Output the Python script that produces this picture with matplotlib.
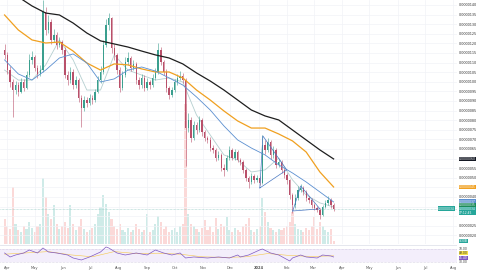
import datetime as dt
import numpy as np
import matplotlib
matplotlib.use("Agg")
import matplotlib.pyplot as plt
import matplotlib.dates as mdates
from matplotlib.transforms import blended_transform_factory

# ---------------- data ----------------
UNIT = 1e-6
start_date = dt.date(2023, 3, 29)
bar_days = 3
first_open = 11.66

closes = [11.40, 10.61, 9.99, 9.57, 9.83, 9.47, 9.99, 9.68, 10.35, 11.14,
          11.29, 10.72, 10.41, 10.61, 13.64, 12.70, 13.11, 12.18, 12.44, 11.92,
          12.07, 11.66, 10.35, 10.09, 10.51, 9.83, 10.09, 9.16, 8.64, 9.05,
          8.90, 9.16, 9.05, 9.47, 10.09, 10.51, 11.92, 12.96, 13.32, 11.76,
          11.40, 10.61, 9.68, 10.35, 11.03, 11.24, 10.72, 10.93, 10.09, 9.83,
          10.20, 9.68, 9.99, 9.83, 10.20, 10.51, 11.66, 11.03, 10.51, 9.68,
          9.31, 9.57, 9.99, 10.20, 10.30, 10.09, 7.59, 8.01, 7.07, 7.75,
          7.49, 8.01, 7.39, 7.07, 6.97, 6.55, 6.45, 6.03, 6.19, 5.51,
          5.41, 6.03, 6.45, 6.03, 6.34, 5.93, 5.82, 5.41, 4.99, 4.78,
          5.09, 4.89, 4.99, 4.73, 6.71, 6.45, 6.86, 6.19, 6.45, 5.67,
          5.82, 5.41, 5.15, 4.89, 4.10, 3.58, 3.95, 4.36, 4.47, 4.26,
          3.95, 3.84, 3.58, 3.43, 3.32, 3.06, 3.48, 3.69, 3.84, 3.58,
          3.38]
highs = [11.95, 11.55, 10.80, 10.15, 10.05, 10.00, 10.20, 10.15, 10.55, 11.45,
         11.60, 11.40, 10.90, 10.85, 14.26, 13.90, 13.50, 13.25, 12.75, 12.60,
         12.35, 12.20, 11.80, 10.55, 10.75, 10.65, 10.30, 10.20, 9.30, 9.25,
         9.20, 9.35, 9.30, 9.65, 10.30, 10.80, 12.20, 13.25, 13.58, 13.40,
         11.95, 11.50, 10.75, 10.55, 11.30, 11.55, 11.35, 11.15, 11.05, 10.25,
         10.40, 10.35, 10.20, 10.10, 10.40, 10.70, 12.00, 11.80, 11.15, 10.65,
         9.80, 9.75, 10.15, 10.40, 10.55, 10.45, 10.20, 8.35, 8.15, 7.95,
         7.90, 8.20, 8.10, 7.50, 7.20, 7.10, 6.70, 6.55, 6.40, 6.30,
         5.70, 6.20, 6.65, 6.55, 6.50, 6.45, 6.05, 5.95, 5.50, 5.10,
         5.25, 5.20, 5.15, 5.10, 7.23, 6.95, 7.05, 6.95, 6.65, 6.55,
         6.00, 5.90, 5.50, 5.25, 4.95, 4.20, 4.15, 4.55, 4.70, 4.55,
         4.35, 4.05, 3.95, 3.70, 3.55, 3.40, 3.60, 3.85, 4.05, 3.95,
         3.70]
lows = [11.20, 10.40, 9.75, 8.17, 9.35, 9.25, 9.40, 9.50, 9.60, 10.25,
        10.95, 10.55, 10.20, 10.30, 10.50, 12.45, 12.55, 11.95, 12.05, 11.70,
        11.80, 11.45, 10.20, 9.85, 9.95, 9.60, 9.70, 8.95, 7.65, 8.50,
        8.70, 8.80, 8.85, 8.95, 9.40, 9.95, 10.40, 11.80, 12.70, 11.50,
        11.15, 10.40, 9.45, 9.55, 10.25, 10.90, 10.55, 10.60, 9.90, 9.65,
        9.70, 9.50, 9.55, 9.65, 9.75, 10.10, 10.40, 10.85, 10.35, 9.45,
        9.10, 9.20, 9.45, 9.85, 10.10, 9.95, 5.60, 7.40, 6.85, 6.95,
        7.30, 7.40, 7.20, 6.90, 6.80, 6.40, 6.30, 5.85, 5.95, 5.35,
        5.09, 5.35, 5.95, 5.90, 5.95, 5.80, 5.65, 5.25, 4.85, 4.47,
        4.70, 4.75, 4.80, 4.60, 4.65, 6.25, 6.35, 6.00, 6.05, 5.50,
        5.55, 5.25, 5.00, 4.70, 3.90, 3.17, 3.45, 3.85, 4.25, 4.10,
        3.80, 3.70, 3.45, 3.30, 3.20, 2.85, 3.00, 3.40, 3.60, 3.45,
        3.25]
volumes = [25, 18, 15, 57, 20, 14, 12, 18, 15, 22,
           16, 12, 18, 20, 66, 47, 30, 25, 39, 20,
           15, 18, 22, 16, 39, 20, 14, 18, 25, 15,
           12, 14, 16, 20, 30, 37, 49, 40, 32, 25,
           18, 15, 20, 14, 12, 16, 12, 14, 20, 15,
           12, 14, 30, 12, 14, 20, 28, 22, 15, 18,
           12, 14, 16, 12, 18, 20, 140, 30, 20, 18,
           15, 12, 16, 24, 14, 18, 12, 26, 15, 20,
           18, 27, 14, 12, 16, 14, 12, 18, 20, 26,
           14, 12, 15, 18, 46, 32, 22, 16, 14, 12,
           15, 14, 16, 18, 22, 32, 20, 15, 14, 12,
           16, 14, 18, 27, 15, 22, 18, 14, 12, 15,
           3]

ma_idx = [0, 5, 10, 15, 20, 25, 30, 35, 40, 45, 50, 55, 60, 65, 70, 75, 80,
          85, 90, 95, 100, 105, 110, 115, 120]
ma200 = [14.83, 14.42, 13.95, 13.58, 13.48, 13.06, 12.54, 12.13, 11.97, 11.81,
         11.60, 11.40, 11.24, 10.93, 10.46, 10.04, 9.57, 9.05, 8.53, 8.22,
         8.01, 7.49, 6.97, 6.45, 5.98]
ma100 = [13.48, 12.70, 12.18, 12.02, 12.07, 11.60, 10.98, 10.61, 10.93, 10.88,
         10.67, 10.51, 10.51, 10.20, 9.57, 9.05, 8.48, 7.96, 7.59, 7.59,
         7.28, 6.92, 6.34, 5.30, 4.52]
ma50 = [11.14, 10.41, 10.09, 10.61, 11.24, 11.45, 10.98, 9.99, 10.15, 10.61,
        10.77, 10.56, 10.20, 9.83, 9.21, 8.53, 7.70, 6.97, 6.55, 6.19,
        5.67, 5.25, 4.78, 4.26, 3.74]
ma20 = [10.61, 10.09, 10.09, 10.88, 12.18, 11.14, 9.57, 9.57, 11.40, 10.61,
        10.35, 10.09, 10.20, 9.99, 8.27, 7.23, 6.19, 5.93, 5.30, 5.41,
        6.03, 4.89, 4.10, 3.69, 3.48]

rsi_idx = [0, 2, 4, 7, 9, 12, 14, 16, 19, 23, 25, 28, 31, 35, 37, 38, 41, 44,
           48, 52, 55, 58, 61, 64, 66, 69, 74, 78, 82, 85, 86, 89, 93, 94, 97,
           100, 104, 105, 108, 110, 114, 116, 119, 120]
rsi_vals = [57.7, 45.4, 51.5, 57.7, 66.9, 57.7, 73.1, 60.8, 57.7, 51.5,
            42.3, 36.2, 45.4, 60.8, 76.2, 73.1, 57.7, 51.5, 57.7, 51.5,
            66.9, 57.7, 51.5, 57.7, 42.3, 45.4, 42.3, 45.4, 42.3, 51.5,
            45.4, 51.5, 66.9, 70.0, 57.7, 51.5, 33.1, 42.3, 51.5, 45.4,
            42.3, 51.5, 48.5, 45.4]
rsi_ma_idx = [0, 8, 16, 24, 32, 40, 48, 56, 64, 72, 80, 88, 96, 104, 112, 120]
rsi_ma_vals = [54, 58, 62, 52, 46, 62, 56, 57, 54, 46, 44, 46, 56, 50, 47, 49]

tri1_idx = [93.1, 94.2, 102.9, 93.1]
tri1_px = [4.47, 7.18, 5.41, 4.47]
tri2_idx = [105.1, 108.0, 115.0, 105.1]
tri2_px = [3.27, 4.57, 3.38, 3.27]

grid_ticks = [2.0 + 0.5 * k for k in range(25)]
# tick labels hidden by the coloured value labels on the price scale
price_tick_labels = [2.0, 2.5, 4.0, 5.0, 5.5, 6.5, 7.0, 7.5, 8.0, 8.5, 9.0,
                     9.5, 10.0, 10.5, 11.0, 11.5, 12.0, 12.5, 13.0, 13.5, 14.0]
month_starts = [dt.date(2023, m, 1) for m in range(4, 13)] + \
               [dt.date(2024, m, 1) for m in range(1, 9)]
month_labels = ["Apr", "May", "Jun", "Jul", "Aug", "Sep", "Oct", "Nov", "Dec",
                "2024", "Feb", "Mar", "Apr", "May", "Jun", "Jul", "Aug"]
x_start, x_end = dt.date(2023, 3, 24), dt.date(2024, 8, 5)

# ---------------- figure ----------------
W, H = 480, 270
fig = plt.figure(figsize=(4.8, 2.7), dpi=100)
fig.patch.set_facecolor("white")


def rect(l, t, w, h):
    return [l / W, 1 - (t + h) / H, w / W, h / H]


ax = fig.add_axes(rect(0, 0, 457, 244))
axv = ax.twinx()
ax.set_zorder(axv.get_zorder() + 1)
ax.patch.set_visible(False)
axr = fig.add_axes(rect(0, 245, 457, 19), sharex=ax)

x0 = mdates.date2num(start_date)
x = x0 + bar_days * np.arange(len(closes))
opens = [first_open] + closes[:-1]


def ix(idx):
    return x0 + bar_days * np.asarray(idx, float)


up_c, dn_c = "#3a9f8e", "#b9506a"
for xi, o, h, l, c in zip(x, opens, highs, lows, closes):
    col = up_c if c >= o else dn_c
    ax.vlines(xi, l * UNIT, h * UNIT, color=col, lw=0.4, zorder=3)
    ax.bar(xi, max(abs(c - o), 0.04) * UNIT, bottom=min(o, c) * UNIT,
           width=1.5, color=col, lw=0, zorder=3)

vcols = ["#26a69a" if c >= o else "#ef5350" for o, c in zip(opens, closes)]
axv.bar(x, volumes, width=2.3, color=vcols, alpha=0.22, lw=0)
axv.set_ylim(0, 244)
axv.set_yticks([])

ax.plot(ix(ma_idx), np.array(ma200) * UNIT, color="#1e1e1e", lw=0.9, zorder=4)
ax.plot(ix(ma_idx), np.array(ma100) * UNIT, color="#f0a020", lw=0.9, zorder=4)
ax.plot(ix(ma_idx), np.array(ma50) * UNIT, color="#5b8fd0", lw=0.6, zorder=4)
ax.plot(ix(ma_idx), np.array(ma20) * UNIT, color="#b5cfd0", lw=0.6, zorder=2)
ax.plot(ix(tri1_idx), np.array(tri1_px) * UNIT, color="#4a78c2", lw=0.5, zorder=4)
ax.plot(ix(tri2_idx), np.array(tri2_px) * UNIT, color="#4a78c2", lw=0.5, zorder=4)

ax.axhline(closes[-1] * UNIT, color="#9fcfc9", lw=0.5, ls=(0, (1, 1)), zorder=2)

ax.set_xlim(mdates.date2num(x_start), mdates.date2num(x_end))
ax.set_ylim(1.55 * UNIT, 14.26 * UNIT)
ax.set_yticks([v * UNIT for v in price_tick_labels])
ax.set_yticklabels([f"{v * UNIT:.7f}" for v in price_tick_labels])
ax.set_yticks([v * UNIT for v in grid_ticks], minor=True)
ax.yaxis.tick_right()
ax.tick_params(axis="y", which="both", length=0, pad=1.5, labelsize=2.4,
               labelcolor="#333333")
ax.tick_params(axis="x", length=0, labelbottom=False)
ax.set_xticks(mdates.date2num(month_starts))
ax.grid(True, which="both", color="#f2f3f7", lw=0.5)
ax.set_axisbelow(True)
for a in (ax, axv, axr):
    for s in a.spines.values():
        s.set_visible(False)

tr = blended_transform_factory(ax.transAxes, ax.transData)


def rlabel(axis, val, txt, fc, tc="white", dy=0.0, transform=None):
    axis.annotate(txt, xy=(1, val), xycoords=transform,
                  xytext=(1.5, dy), textcoords="offset points",
                  fontsize=2.2, color=tc, va="center", ha="left",
                  linespacing=1.0,
                  bbox=dict(boxstyle="square,pad=0.12", fc=fc, ec="none"),
                  annotation_clip=False, zorder=10)


rlabel(ax, ma200[-1] * UNIT, f"{ma200[-1] * UNIT:.7f}", "#131722", transform=tr)
rlabel(ax, ma100[-1] * UNIT, f"{ma100[-1] * UNIT:.7f}", "#f0a020", transform=tr)
rlabel(ax, ma50[-1] * UNIT, f"{ma50[-1] * UNIT:.7f}", "#5b8fd0", transform=tr, dy=0.1)
rlabel(ax, ma20[-1] * UNIT, f"{ma20[-1] * UNIT:.7f}", "#1b8a5a", transform=tr, dy=1.2)
rlabel(ax, closes[-1] * UNIT, f"{closes[-1] * UNIT:.7f}\n07:12:45", "#26a69a",
       transform=tr, dy=-1.5)
ax.annotate(f"{closes[-1] * UNIT:.7f}", xy=(1, closes[-1] * UNIT), xycoords=tr,
            xytext=(-1.5, 0), textcoords="offset points", fontsize=2.2,
            color="white", va="center", ha="right",
            bbox=dict(boxstyle="square,pad=0.15", fc="#26a69a", ec="none"),
            annotation_clip=False, zorder=10)

trv = blended_transform_factory(axv.transAxes, axv.transData)
axv.annotate(f"{volumes[-1] * 3.1:.2f}B", xy=(1, volumes[-1]), xycoords=trv,
             xytext=(1.5, 0), textcoords="offset points", fontsize=2.2,
             color="white", va="center", ha="left",
             bbox=dict(boxstyle="square,pad=0.15", fc="#26a69a", ec="none"),
             annotation_clip=False)

# ---------------- RSI ----------------
axr.axhspan(30, 70, color="#f3eefb", lw=0)
axr.axhline(70, color="#b9b0cf", lw=0.4, ls=(0, (1, 1.5)))
axr.axhline(30, color="#b9b0cf", lw=0.4, ls=(0, (1, 1.5)))
axr.plot(ix(rsi_ma_idx), rsi_ma_vals, color="#f5c84a", lw=0.4)
axr.plot(ix(rsi_idx), rsi_vals, color="#7e57c2", lw=0.5)
axr.set_ylim(23.8, 82.3)
axr.set_yticks([30, 70])
axr.set_yticklabels(["30.00", "70.00"])
axr.yaxis.tick_right()
axr.tick_params(axis="y", length=0, pad=1.5, labelsize=2.2, labelcolor="#333333")
axr.axhline(82.3, color="#e0e3eb", lw=0.6)
trr = blended_transform_factory(axr.transAxes, axr.transData)
rlabel(axr, rsi_ma_vals[-1], f"{rsi_ma_vals[-1]:.2f}", "#f5e04a", tc="#333333",
       transform=trr, dy=2.0)
rlabel(axr, rsi_vals[-1], f"{rsi_vals[-1]:.2f}", "#7e57c2", transform=trr, dy=-0.8)

axr.set_xticks(mdates.date2num(month_starts))
axr.set_xticklabels(month_labels)
axr.tick_params(axis="x", length=0, pad=1.2, labelsize=2.6, labelcolor="#555555")
for lbl in axr.get_xticklabels():
    if lbl.get_text() == "2024":
        lbl.set_fontweight("bold")

fig.savefig("out.png", dpi=100)
